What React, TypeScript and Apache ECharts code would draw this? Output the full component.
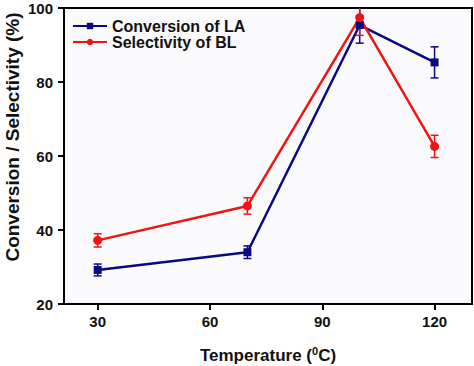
import React, { useEffect, useRef } from "react";
import * as echarts from "echarts";

const temperatures = [30, 70, 100, 120];
const conversionLA = [29.2, 34.0, 95.4, 85.3];
const conversionErr = [1.6, 1.7, 4.9, 4.2];
const selectivityBL = [37.2, 46.5, 97.4, 62.6];
const selectivityErr = [1.8, 2.2, 4.8, 3.0];
const xTicks = [30, 60, 90, 120];
const yTicks = [20, 40, 60, 80, 100];

const BLUE = "#0a0a80";
const RED = "#f01414";

function errorSeries(name: string, vals: number[], errs: number[], color: string) {
  return {
    type: "custom",
    name: name + " err",
    clip: true,
    silent: true,
    z: 3,
    data: temperatures.map((t, i) => [t, vals[i] - errs[i], vals[i] + errs[i]]),
    renderItem: (params: any, api: any) => {
      const x = api.value(0);
      const lo = api.coord([x, api.value(1)]);
      const hi = api.coord([x, api.value(2)]);
      const w = 4;
      const style = { stroke: color, lineWidth: 1.5, fill: "none" };
      return {
        type: "group",
        children: [
          { type: "line", shape: { x1: lo[0], y1: lo[1], x2: hi[0], y2: hi[1] }, style },
          { type: "line", shape: { x1: lo[0] - w, y1: lo[1], x2: lo[0] + w, y2: lo[1] }, style },
          { type: "line", shape: { x1: hi[0] - w, y1: hi[1], x2: hi[0] + w, y2: hi[1] }, style },
        ],
      };
    },
  };
}

export default function App() {
  const ref = useRef<HTMLDivElement>(null);
  useEffect(() => {
    if (!ref.current) return;
    const chart = echarts.init(ref.current, null, { renderer: "svg" });
    const font = "Arial, 'Liberation Sans', sans-serif";
    chart.setOption({
      animation: false,
      backgroundColor: "#ffffff",
      grid: {
        left: 64,
        top: 8,
        right: 2,
        bottom: 62,
        containLabel: false,
        outerBoundsMode: "none",
        show: true,
        backgroundColor: "#fafafd",
        borderColor: "#000",
        borderWidth: 2,
      },
      legend: {
        left: 72,
        top: 18,
        padding: 0,
        orient: "vertical",
        itemWidth: 34,
        itemHeight: 8,
        itemGap: 0,
        data: ["Conversion of LA", "Selectivity of BL"],
        textStyle: { fontFamily: font, fontWeight: "bold", fontSize: 16, color: "#111" },
      },
      xAxis: {
        type: "value",
        min: 21,
        max: 130,
        axisLine: { show: true, lineStyle: { color: "#000", width: 2 } },
        axisTick: { show: true, length: 6, lineStyle: { color: "#000", width: 2 }, customValues: xTicks },
        axisLabel: {
          customValues: xTicks,
          fontFamily: font,
          fontWeight: "bold",
          fontSize: 15,
          color: "#111",
          margin: 10,
        },
        splitLine: { show: false },
      },
      yAxis: {
        type: "value",
        min: 20,
        max: 100,
        interval: 20,
        axisLine: { show: true, lineStyle: { color: "#000", width: 2 } },
        axisTick: { show: true, length: 6, lineStyle: { color: "#000", width: 2 } },
        axisLabel: {
          fontFamily: font,
          fontWeight: "bold",
          fontSize: 15,
          color: "#111",
          margin: 11,
          formatter: (v: number) => (yTicks.includes(v) ? String(v) : ""),
        },
        splitLine: { show: false },
      },
      series: [
        {
          type: "line",
          name: "Conversion of LA",
          data: temperatures.map((t, i) => [t, conversionLA[i]]),
          symbol: "rect",
          symbolSize: 8,
          itemStyle: { color: BLUE },
          lineStyle: { color: BLUE, width: 2.5 },
          z: 4,
        },
        {
          type: "line",
          name: "Selectivity of BL",
          data: temperatures.map((t, i) => [t, selectivityBL[i]]),
          symbol: "circle",
          symbolSize: 9,
          itemStyle: { color: RED },
          lineStyle: { color: RED, width: 2.5 },
          z: 4,
        },
        errorSeries("Conversion of LA", conversionLA, conversionErr, BLUE),
        errorSeries("Selectivity of BL", selectivityBL, selectivityErr, RED),
      ],
      graphic: [
        {
          type: "text",
          x: 268,
          y: 355,
          style: {
            text: "Temperature ({sup|0}C)",
            font: "bold 17px Arial, 'Liberation Sans', sans-serif",
            fill: "#111",
            align: "center",
            verticalAlign: "middle",
            rich: {
              sup: { fontSize: 11, fontWeight: "bold", verticalAlign: "top", padding: [0, 0, 8, 0] },
            },
          },
        },
        {
          type: "text",
          x: 12,
          y: 137,
          rotation: Math.PI / 2,
          style: {
            text: "Conversion / Selectivity (%)",
            font: "bold 19px Arial, 'Liberation Sans', sans-serif",
            fill: "#111",
            align: "center",
            verticalAlign: "middle",
          },
        },
      ],
    });
    return () => chart.dispose();
  }, []);
  return <div ref={ref} style={{ width: 474, height: 366, position: "absolute", left: 0, top: 0 }} />;
}
